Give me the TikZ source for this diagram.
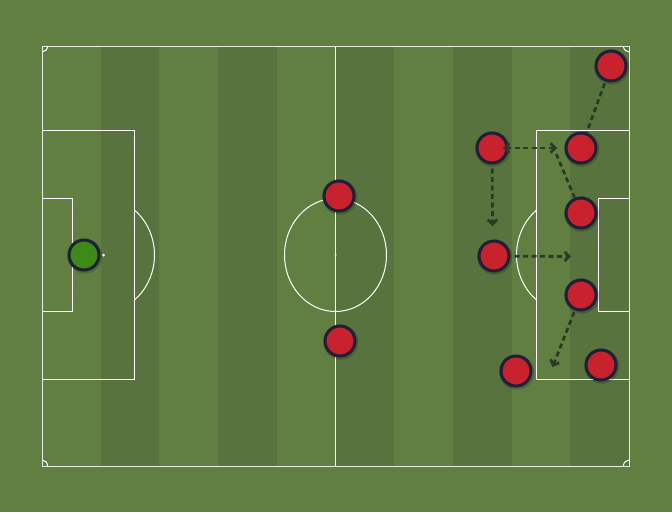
\documentclass[tikz,border=0pt]{standalone}
\usetikzlibrary{arrows.meta}
\definecolor{bg}{HTML}{627F42}
\definecolor{stripe}{HTML}{58733D}
\definecolor{redp}{HTML}{C8232C}
\definecolor{greenp}{HTML}{3D8A17}
\definecolor{rim}{HTML}{1E1F38}
\definecolor{runc}{HTML}{2C3B24}
\begin{document}
\begin{tikzpicture}[x=1pt,y=-1pt,
  >={Straight Barb[length=4.5pt,width=9.5pt]},
  pline/.style={draw=white,line width=1pt},
  player/.style={circle,minimum size=30pt,inner sep=0pt,line width=3pt,draw=rim},
  redplayer/.style={player,fill=redp},
  greenplayer/.style={player,fill=greenp},
  run/.style={draw=runc,line width=2.8pt,dash pattern=on 5pt off 3.5pt}]
\useasboundingbox (0,0) rectangle (672,512);
\fill[bg] (0,0) rectangle (672,512);
% stripes
\foreach \i in {1,3,5,7,9}{
  \fill[stripe] ({42+\i*58.7},46) rectangle ({42+(\i+1)*58.7},466);
}
% pitch lines
\draw[pline,draw=white!85!bg] (42,46) rectangle (629,466);
\draw[pline] (335.5,46) -- (335.5,466);
\draw[pline] (335.5,255) ellipse [x radius=51,y radius=56.5];
\fill[white] (335.5,255) circle [radius=1.2];
% left
\draw[pline] (42,130.5) -- (134.5,130.5) -- (134.5,379.5) -- (42,379.5);
\draw[pline] (42,198.5) -- (72.5,198.5) -- (72.5,311.5) -- (42,311.5);
\fill[white] (103.5,255) circle [radius=1.5];
\draw[pline] (103.5,255) ++(-52.3:51 and 56.5) arc [start angle=-52.3,end angle=52.3,x radius=51,y radius=56.5];
% right
\draw[pline] (629,130.5) -- (536.5,130.5) -- (536.5,379.5) -- (629,379.5);
\draw[pline] (629,198.5) -- (598.5,198.5) -- (598.5,311.5) -- (629,311.5);
\fill[white] (567.5,255) circle [radius=1.5];
\draw[pline] (567.5,255) ++(127.7:51 and 56.5) arc [start angle=127.7,end angle=232.3,x radius=51,y radius=56.5];
% corners
\draw[pline] (42,52) arc [start angle=90,end angle=0,x radius=5.6,y radius=6] ;
\draw[pline] (623.4,46) arc [start angle=180,end angle=90,x radius=5.6,y radius=6];
\draw[pline] (42,460) arc [start angle=-90,end angle=0,x radius=5.6,y radius=6];
\draw[pline] (623.4,466) arc [start angle=180,end angle=270,x radius=5.6,y radius=6];
% shadows
\foreach \p in {(84,255),(339,196),(340,341),(611,66),(492,148),(581,148),(581,213),(494,256),(581,295),(516,371),(601,365)}{
  \fill[black,opacity=0.18] \p ++(0.8,1.2) circle [radius=17.5];
}
% players
\node[greenplayer] (g1) at (84,255) {};
\node[redplayer] (m1) at (339,196) {};
\node[redplayer] (m2) at (340,341) {};
\node[redplayer] (r1) at (611,66) {};
\node[redplayer] (r2) at (492,148) {};
\node[redplayer] (r3) at (581,148) {};
\node[redplayer] (r4) at (581,213) {};
\node[redplayer] (r5) at (494,256) {};
\node[redplayer] (r6) at (581,295) {};
\node[redplayer] (r7) at (516,371) {};
\node[redplayer] (r8) at (601,365) {};
% run targets
\coordinate (tB0) at (503,148);
\coordinate (tB) at (557,148);
\coordinate (tC) at (555,151);
\coordinate (tD) at (492.5,226);
\coordinate (tE) at (571,256.5);
\coordinate (tF) at (552.5,367);
% runs
\draw[run,shorten <=2pt] (r1) -- (r3);
\draw[run,<->] (tB0) -- (tB);
\draw[run] (r4) -- (tC);
\draw[run,->,shorten <=4pt] (r2) -- (tD);
\draw[run,->,shorten <=4pt] (r5) -- (tE);
\draw[run,->,shorten <=2pt] (r6) -- (tF);
\end{tikzpicture}
\end{document}
